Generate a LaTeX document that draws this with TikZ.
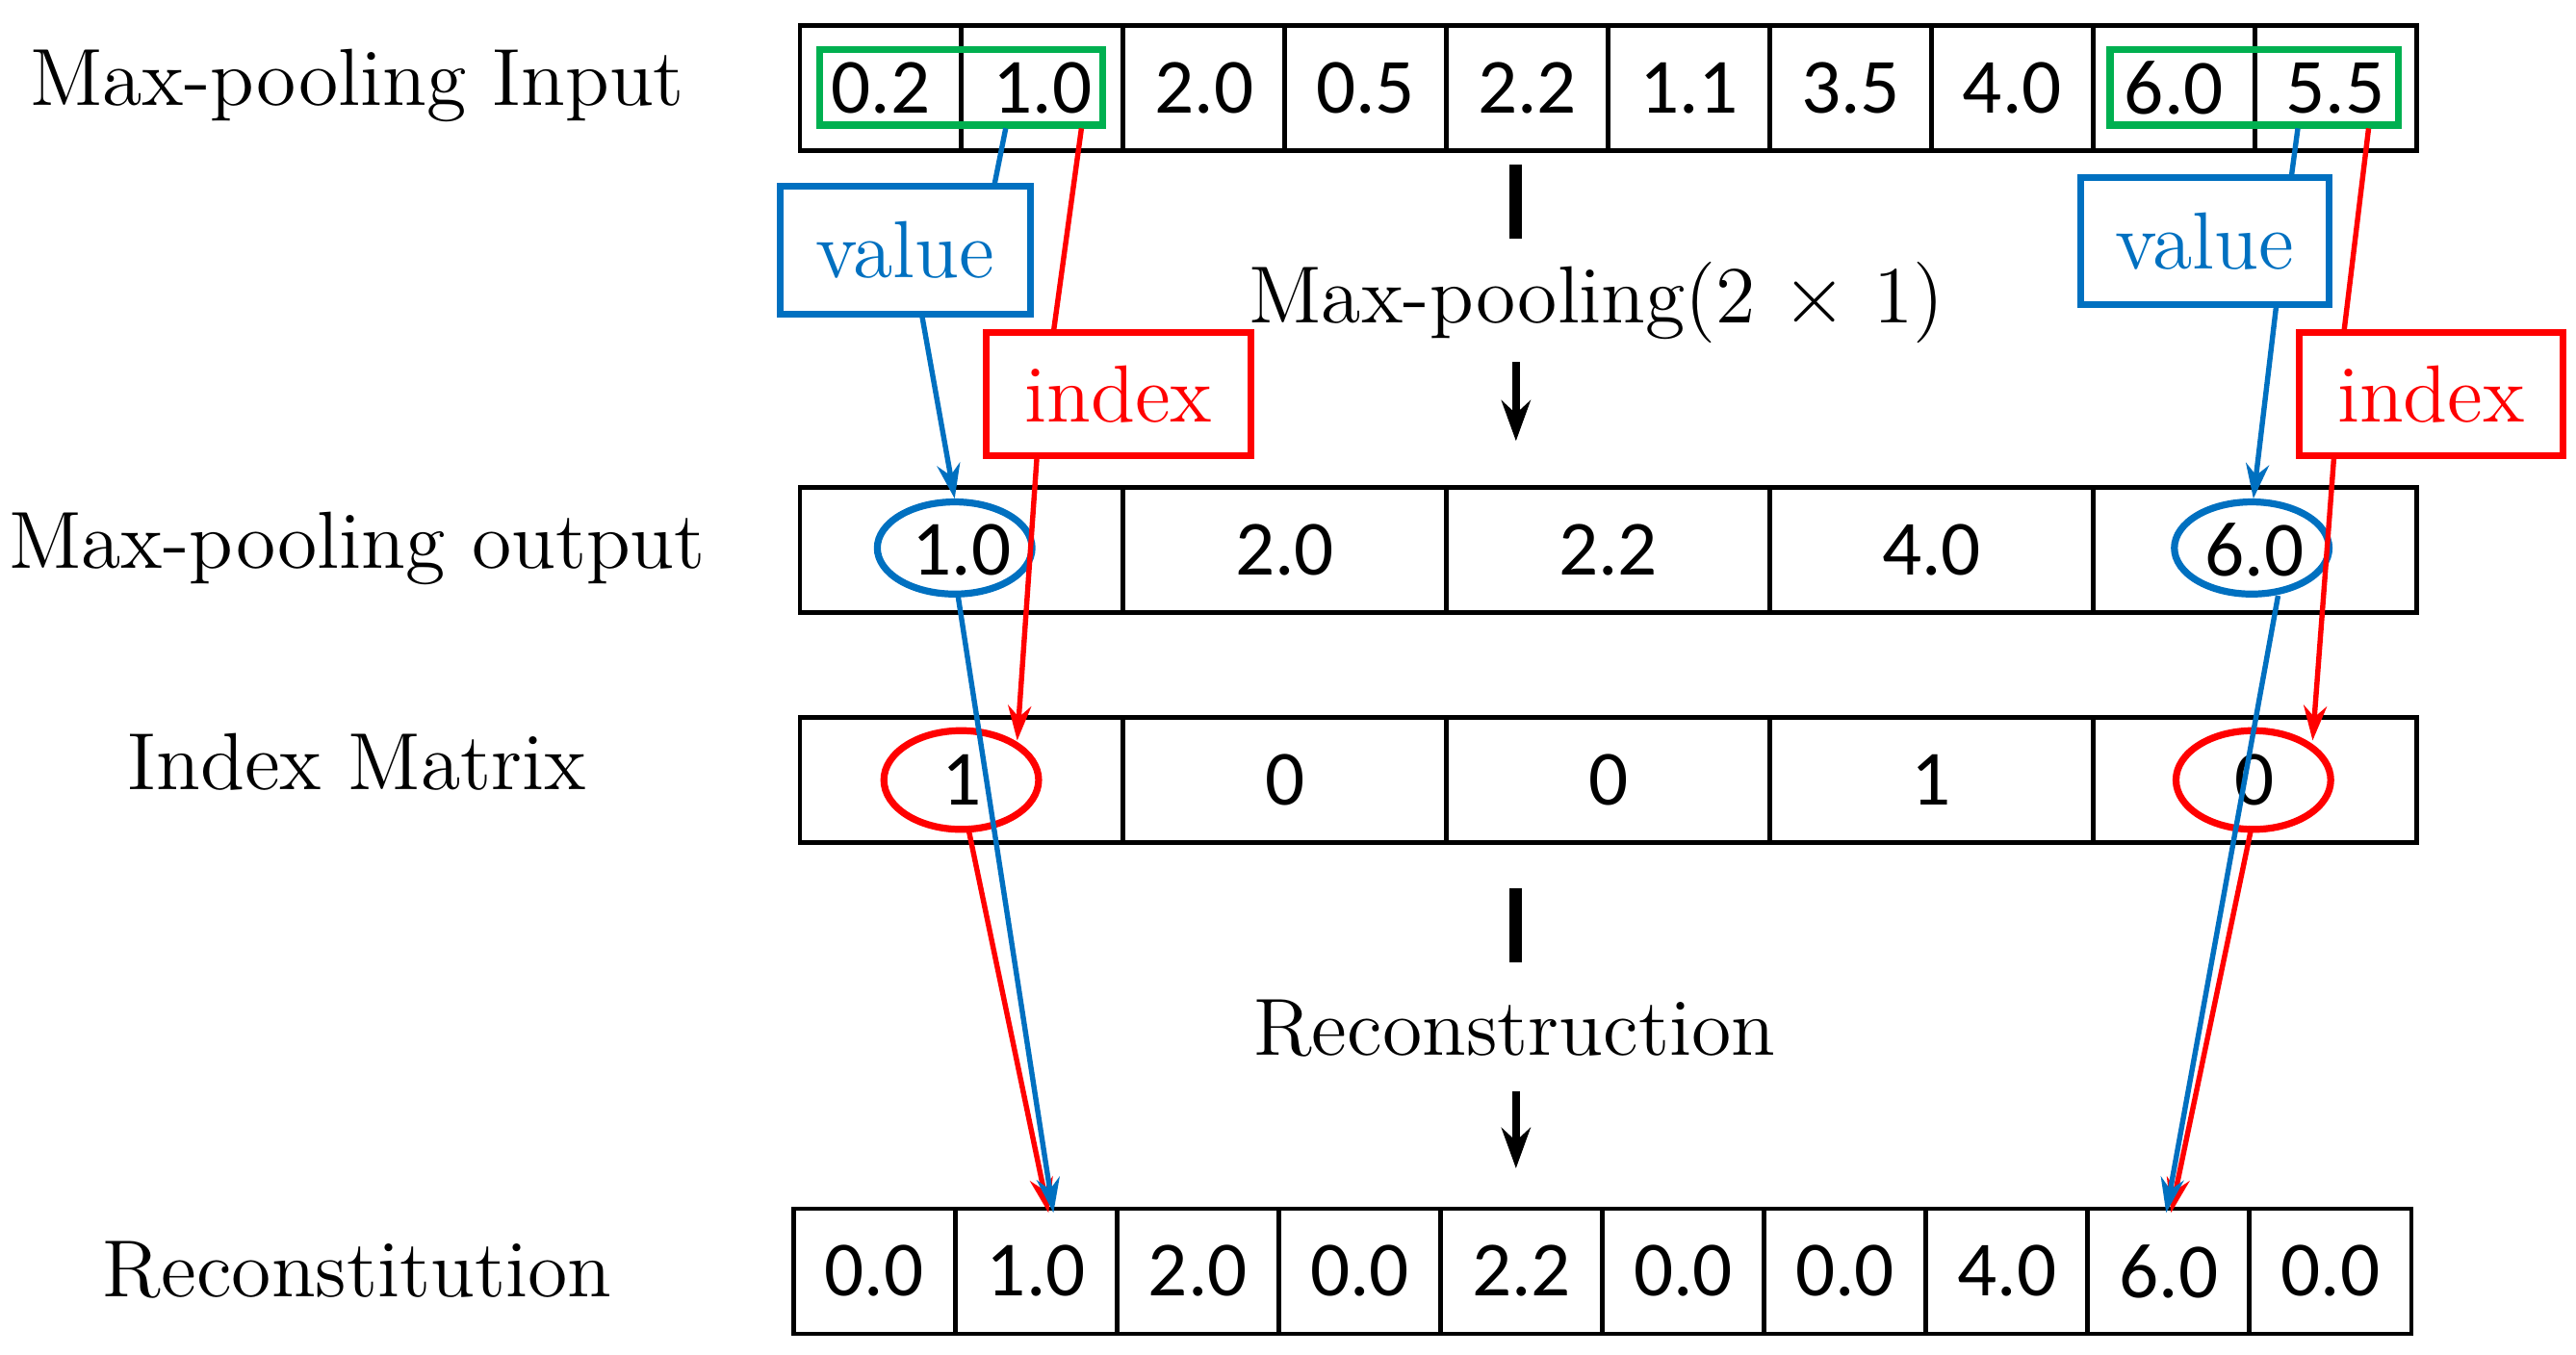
\documentclass[tikz,border=0pt]{standalone}
\usepackage{fontspec}
\newfontfamily\carlitofont{Carlito}
\usetikzlibrary{arrows.meta}
\definecolor{bl}{RGB}{0,112,192}
\definecolor{rd}{RGB}{255,0,0}
\definecolor{gr}{RGB}{0,176,80}
\begin{document}
\begin{tikzpicture}[x=0.01cm,y=-0.01cm,
 cell/.style={draw,line width=0.8pt,minimum height=0.76cm,inner sep=0pt,font=\carlitofont\fontsize{13.5}{15}\selectfont},
 lab/.style={font=\fontsize{14}{16}\selectfont},
 bx/.style={draw,line width=1.2pt,inner sep=0pt,text=black,font=\fontsize{14}{16}\selectfont},
 ar/.style={line width=0.9pt,-{Stealth[length=6pt,width=4pt]}},
 ln/.style={line width=0.9pt}]
\useasboundingbox (0,0) rectangle (1565,823);
\node[lab] (l1) at (217,52) {Max-pooling Input};
\node[lab] (l2) at (217,333) {Max-pooling output};
\node[lab] (l3) at (217,463) {Index Matrix};
\node[lab] (l4) at (217,772) {Reconstitution};
\foreach \v [count=\i] in {0.2,1.0,2.0,0.5,2.2,1.1,3.5,4.0,6.0,5.5}
  \node[cell,minimum width=0.982cm] (a\i) at ({486+98.2*(\i-0.5)},53.5) {\v};
\foreach \v [count=\i] in {1.0,2.0,2.2,4.0,6.0}
  \node[cell,minimum width=1.964cm] (b\i) at ({486+196.4*(\i-0.5)},334) {\v};
\foreach \v [count=\i] in {1,0,0,1,0}
  \node[cell,minimum width=1.964cm] (c\i) at ({486+196.4*(\i-0.5)},474) {\v};
\foreach \v [count=\i] in {0.0,1.0,2.0,0.0,2.2,0.0,0.0,4.0,6.0,0.0}
  \node[cell,minimum width=0.983cm] (d\i) at ({482+98.3*(\i-0.5)},772.5) {\v};
\draw[gr,line width=1.2pt] (498,30) rectangle (670,76);
\draw[gr,line width=1.2pt] (1282,30) rectangle (1457,76);
\node[bx,bl,minimum width=1.52cm,minimum height=0.78cm] (v1) at (550,152) {value};
\node[bx,bl,minimum width=1.51cm,minimum height=0.77cm] (v2) at (1339.5,146.5) {value};
\node[bx,rd,minimum width=1.61cm,minimum height=0.75cm] (i1) at (679.5,239.5) {index};
\node[bx,rd,minimum width=1.6cm,minimum height=0.75cm] (i2) at (1477,239.5) {index};
\draw[bl,line width=1.2pt] (580,333) ellipse (47 and 28);
\draw[bl,line width=1.2pt] (1368,333) ellipse (47 and 28);
\draw[rd,line width=1.2pt] (584,474) ellipse (47 and 30);
\draw[rd,line width=1.2pt] (1369,474) ellipse (47 and 30);
% center
\draw[line width=2.2pt] (921,100) -- (921,145);
\node[lab] (mp) at (970,184) {Max-pooling(2 $\times$ 1)};
\draw[line width=1.4pt,-{Stealth[length=7pt,width=5pt]}] (921,220) -- (921,268);
\draw[line width=2.2pt] (921,540) -- (921,585);
\node[lab] (rc) at (920,625) {Reconstruction};
\draw[line width=1.4pt,-{Stealth[length=7pt,width=5pt]}] (921,663) -- (921,710);
% left connectors
\draw[bl,ln] (611,78) -- (604,113);
\draw[bl,ar] (560,191) -- (580,303);
\draw[rd,ln] (657,78) -- (640,202);
\draw[rd,ar] (630,277) -- (618,450);
\draw[rd,ar] (588,502) -- (637,737);
\draw[bl,ar] (582,362) -- (640,737);
% right connectors
\draw[bl,ln] (1396,78) -- (1392,108);
\draw[bl,ar] (1383,185) -- (1369,303);
\draw[rd,ln] (1439,78) -- (1424,202);
\draw[rd,ar] (1418,277) -- (1405,450);
\draw[rd,ar] (1368,502) -- (1319,737);
\draw[bl,ar] (1384,362) -- (1316,737);
\end{tikzpicture}
\end{document}
